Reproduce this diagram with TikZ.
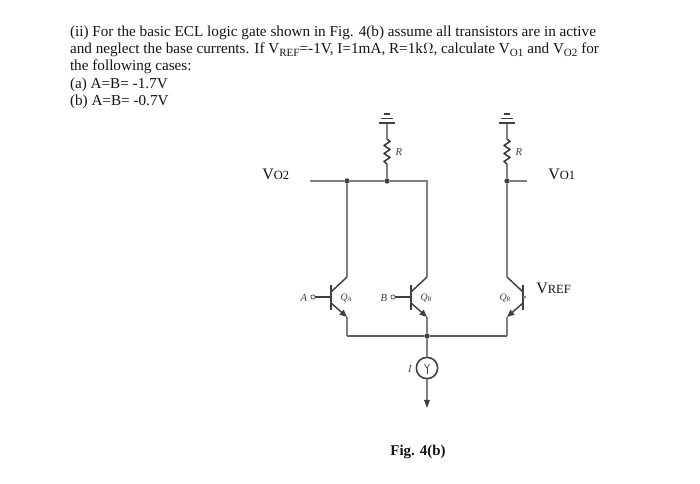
\documentclass[tikz,border=0pt]{standalone}
\usepackage{fontspec}
\setmainfont{Liberation Serif}
\usetikzlibrary{arrows.meta}
\definecolor{wire}{gray}{0.5}
\definecolor{dark}{gray}{0.25}
\definecolor{txt}{gray}{0.08}
\newcommand{\sm}[1]{{\fontsize{9.4}{10}\selectfont #1}}
\newcommand{\lowsm}[1]{\raisebox{-1.6pt}{\fontsize{8.3}{9}\selectfont #1}}
\tikzset{
  x=0.75pt,y=-0.75pt,
  txtline/.style={anchor=base west,inner sep=0,outer sep=0,text=txt,font=\fontsize{11.4}{12}\selectfont},
  biglabel/.style={inner sep=0,text=txt,font=\fontsize{12}{13}\selectfont},
  figcap/.style={inner sep=0,text=txt,font=\bfseries\fontsize{11.2}{12}\selectfont},
  cirlabel/.style={inner sep=0,text=dark,font=\itshape\fontsize{7.4}{8}\selectfont},
  pinlabel/.style={inner sep=0,text=dark,font=\itshape\fontsize{8}{9}\selectfont},
  wireline/.style={draw=wire,line width=0.8pt},
  heavy/.style={draw=dark,line width=1.1pt},
  bar/.style={draw=dark,line width=1.3pt},
  junction/.style={circle,fill=dark,inner sep=0,minimum size=4pt},
  openpin/.style={circle,draw=dark,fill=white,line width=0.5pt,inner sep=0,minimum size=3.2pt},
  srcring/.style={circle,draw=dark,line width=1.2pt,fill=white,inner sep=0,minimum size=16pt},
  emit/.style={draw=dark,line width=1.1pt,-{Triangle[length=5.5pt,width=4.6pt]}},
  flow/.style={draw=wire,line width=0.8pt,-{Triangle[length=6pt,width=4.2pt,color=dark]}},
}
\begin{document}
\begin{tikzpicture}
\useasboundingbox[fill=white] (0,0) rectangle (700,484);
% question text
\node[txtline] (l1) at (70,36.5) {(ii) For the basic ECL logic gate shown in Fig. 4(b) assume all transistors are in active};
\node[txtline] (l2) at (70,54) {and neglect the base currents. If V\lowsm{REF}=-1V, I=1mA, R=1k$\Omega$, calculate V\lowsm{O1} and V\lowsm{O2} for};
\node[txtline] (l3) at (70,71) {the following cases:};
\node[txtline] (l4) at (70,89) {(a) A=B= -1.7V};
\node[txtline] (l5) at (70,106) {(b) A=B= -0.7V};
% coordinates
\coordinate (gl) at (387,124); \coordinate (gr) at (507,124);
\coordinate (rlt) at (387,139); \coordinate (rlb) at (387,164);
\coordinate (rrt) at (507,139); \coordinate (rrb) at (507,164);
\node[junction] (jc1) at (347,181) {};
\node[junction] (jc2) at (387,181) {};
\node[junction] (jc3) at (507,181) {};
\coordinate (wl) at (310,181); \coordinate (corner) at (427,181); \coordinate (wr) at (527,181);
\coordinate (ca) at (347,277); \coordinate (cb) at (427,277); \coordinate (cr) at (507,277);
\coordinate (ea) at (347,317); \coordinate (eb) at (427,317); \coordinate (er) at (507,317);
\coordinate (ba) at (347,336); \coordinate (br) at (507,336);
\node[junction] (jb) at (427,336) {};
\node[srcring] (src) at (427,368) {};
\coordinate (out) at (427,408);
\node[openpin] (pa) at (313,297) {};
\node[openpin] (pb) at (393,297) {};
% ground stacks: narrow on top, wide at the bottom
\foreach \g in {gl,gr}{
  \draw[bar,line width=1.6pt] ([xshift=-6pt,yshift=1pt]\g) -- ([xshift=6pt,yshift=1pt]\g);
  \draw[bar] ([xshift=-4.2pt,yshift=4.2pt]\g) -- ([xshift=4.2pt,yshift=4.2pt]\g);
  \draw[bar] ([xshift=-2.4pt,yshift=7.4pt]\g) -- ([xshift=2.4pt,yshift=7.4pt]\g);
}
% resistors
\foreach \t/\g/\b/\j in {rlt/gl/rlb/jc2,rrt/gr/rrb/jc3}{
  \draw[wireline] (\g) -- (\t);
  \draw[wireline] (\b) -- (\j);
  \draw[draw=dark,line width=1.2pt,line join=round] (\t) -- ++(3,2.5) -- ++(-6,4) -- ++(6,4) -- ++(-6,4) -- ++(6,4) -- ++(-6,4) -- ++(3,2.5);
}
% top wiring
\draw[wireline] (wl) -- (jc1) -- (jc2) -- (corner) -- (cb);
\draw[wireline] (jc1) -- (ca);
\draw[wireline] (jc3) -- (wr);
\draw[wireline] (jc3) -- (cr);
% transistors
\foreach \c/\e/\p in {ca/ea/pa,cb/eb/pb}{
  \draw[bar] (\c) ++(-16,8) -- ++(0,25);
  \draw[heavy] (\c) ++(-16,15) -- (\c);
  \draw[emit] (\c) ++(-16,26) -- (\e);
  \draw[heavy] (\p) -- ++(18,0);
}
\draw[bar] (523,285) -- (523,310);
\draw[heavy] (523,292) -- (cr);
\draw[emit] (523,303) -- (er);
\draw[wireline] (523,297) -- (526,297);
% emitter rail
\draw[wireline] (ea) -- (ba);
\draw[wireline] (er) -- (br);
\draw[wireline] (eb) -- (jb);
\draw[draw=wire!75!black,line width=1.1pt] (ba) -- (jb) -- (br);
\draw[wireline] (jb) -- (src);
\draw[flow] (src) -- (out);
% source symbol
\draw[draw=dark,line width=0.5pt] (427,374) -- (427,368);
\draw[draw=dark,line width=0.5pt] (424.5,364) -- (427,368) -- (429.5,364);
% labels
\node[biglabel,anchor=base west] (vo2) at (262,180) {V\sm{O2}};
\node[biglabel,anchor=base west] (vo1) at (548,180) {V\sm{O1}};
\node[biglabel,anchor=base west] (vref) at (536,293.5) {V\sm{REF}};
\node[figcap,anchor=base] (fig) at (418,456) {Fig. 4(b)};
\node[pinlabel] (rl) at (399,152) {R};
\node[pinlabel] (rr) at (519,152) {R};
\node[cirlabel] (qa) at (346,298) {Q\kern-0.2pt\raisebox{-1pt}{\fontsize{5}{6}\selectfont A}};
\node[cirlabel] (qb) at (426,298) {Q\kern-0.2pt\raisebox{-1pt}{\fontsize{5}{6}\selectfont B}};
\node[cirlabel] (qr) at (505,298) {Q\kern-0.2pt\raisebox{-1pt}{\fontsize{5}{6}\selectfont R}};
\node[pinlabel] (la) at (304,298) {A};
\node[pinlabel] (lb) at (384,298) {B};
\node[pinlabel] (li) at (410,369) {I};
\end{tikzpicture}
\end{document}
